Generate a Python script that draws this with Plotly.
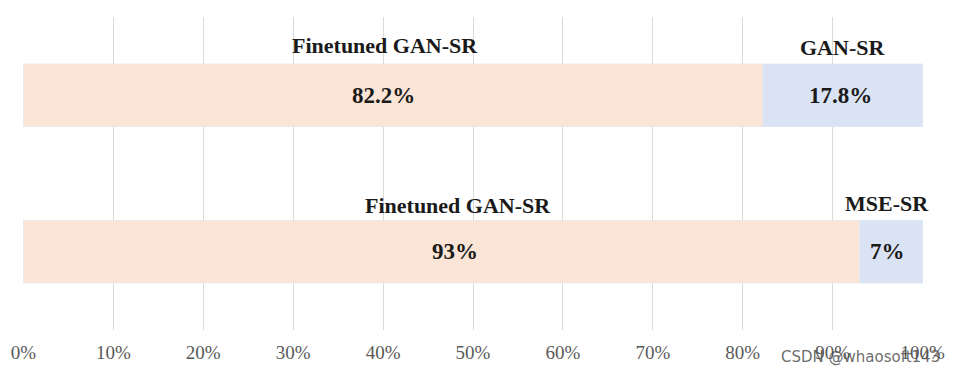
import plotly.graph_objects as go

categories = ["GAN-SR comparison", "MSE-SR comparison"]
finetuned_values = [82.2, 93.0]
other_values = [17.8, 7.0]
finetuned_names = ["Finetuned GAN-SR", "Finetuned GAN-SR"]
other_names = ["GAN-SR", "MSE-SR"]
value_texts_a = ["82.2%", "93%"]
value_texts_b = ["17.8%", "7%"]
tick_vals = [0, 10, 20, 30, 40, 50, 60, 70, 80, 90, 100]
tick_text = [f"{v}%" for v in tick_vals]

PEACH = "#FBE5D6"
BLUE = "#DAE3F3"
FONT = "Liberation Serif"
TXT = "#1a1a1a"

# label placement tweaks (pixels), per row: (name_a, value_a, name_b, value_b)
xshifts = [(-8, -9, 0, -2), (16, 13, -4, -4)]
yshifts = [50, 46]
yshifts_b = [48, 48]

fig = go.Figure()
fig.add_trace(go.Bar(y=categories, x=finetuned_values, orientation="h",
                     marker_color=PEACH, width=0.4, hoverinfo="skip"))
fig.add_trace(go.Bar(y=categories, x=other_values, orientation="h",
                     marker_color=BLUE, width=0.4, hoverinfo="skip"))

annotations = []
for i, (cat, a, b, na, nb, va, vb) in enumerate(zip(categories, finetuned_values, other_values,
                                                     finetuned_names, other_names,
                                                     value_texts_a, value_texts_b)):
    xs = xshifts[i]
    f = dict(family=FONT, size=22, color=TXT)
    annotations.append(dict(x=a / 2, y=cat, xref="x", yref="y", text=f"<b>{na}</b>",
                            showarrow=False, xshift=xs[0], yshift=yshifts[i], font=f))
    annotations.append(dict(x=a / 2, y=cat, xref="x", yref="y", text=f"<b>{va}</b>",
                            showarrow=False, xshift=xs[1], font=dict(family=FONT, size=23, color=TXT)))
    annotations.append(dict(x=a + b / 2, y=cat, xref="x", yref="y", text=f"<b>{nb}</b>",
                            showarrow=False, xshift=xs[2], yshift=yshifts_b[i], font=f))
    annotations.append(dict(x=a + b / 2, y=cat, xref="x", yref="y", text=f"<b>{vb}</b>",
                            showarrow=False, xshift=xs[3], font=dict(family=FONT, size=23, color=TXT)))
annotations.append(dict(x=1, y=0, xref="paper", yref="paper", xanchor="right", yanchor="middle",
                        xshift=19, yshift=-27, text="CSDN @whaosoft143", showarrow=False,
                        font=dict(family="DejaVu Sans", size=15, color="rgba(80,80,80,0.85)")))

fig.update_layout(
    width=940, height=358, barmode="stack", showlegend=False,
    margin=dict(l=15, r=25, t=9, b=36, autoexpand=False),
    paper_bgcolor="white", plot_bgcolor="white",
    annotations=annotations,
    xaxis=dict(range=[-0.05, 100.05], tickvals=tick_vals, ticktext=tick_text,
               showgrid=True, gridcolor="#D9D9D9", gridwidth=1, zeroline=False,
               tickfont=dict(family=FONT, size=19, color="#595959"), ticks="",
               ticklabelstandoff=9,
               showline=False, fixedrange=True, automargin=False),
    yaxis=dict(autorange="reversed", showticklabels=False, showgrid=False,
               zeroline=False, showline=False, fixedrange=True, automargin=False),
)

fig.write_html("out.html")
